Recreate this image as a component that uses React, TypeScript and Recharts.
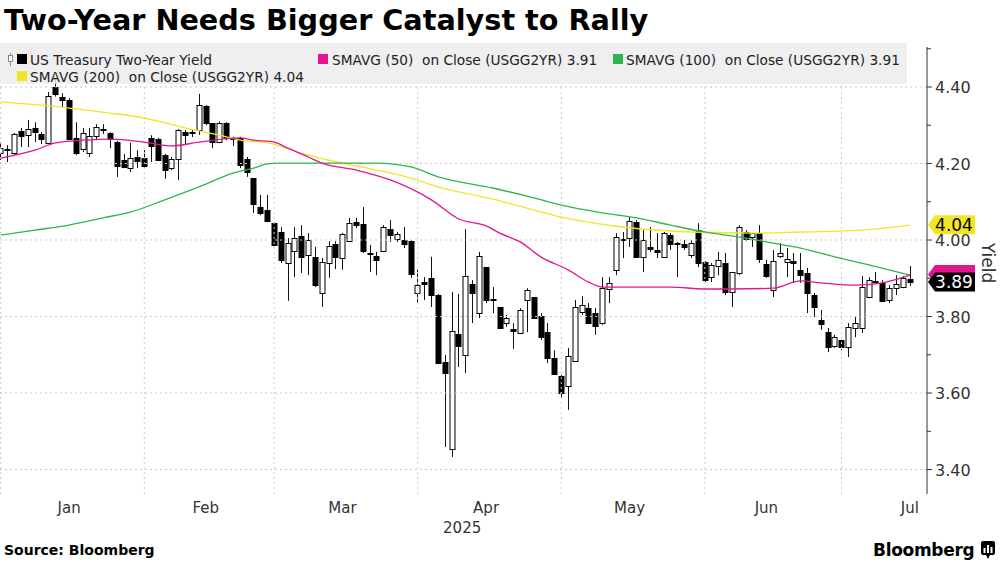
import React from 'react';
import { ComposedChart, Bar, Line, XAxis, YAxis, ReferenceLine } from 'recharts';

const FONT = "'DejaVu Sans', 'Noto Sans', sans-serif";

// Daily OHLC, US Treasury 2-year yield (Jan 2 .. Jul 15, 2025)
const opens = [
  4.227, 4.235, 4.227, 4.285, 4.274, 4.293, 4.277, 4.254, 4.400, 4.374,
  4.366, 4.267, 4.238, 4.227, 4.272, 4.290, 4.280, 4.256, 4.209, 4.188,
  4.217, 4.214, 4.267, 4.264, 4.222, 4.188, 4.212, 4.282, 4.280, 4.288,
  4.350, 4.306, 4.256, 4.306, 4.267, 4.267, 4.212, 4.162, 4.086, 4.078,
  4.044, 4.021, 3.940, 3.971, 4.010, 3.961, 3.956, 3.861, 3.940, 3.990,
  3.953, 3.997, 4.047, 4.042, 3.966, 3.958, 3.971, 4.029, 4.003, 4.000,
  3.997, 3.861, 3.890, 3.901, 3.856, 3.681, 3.453, 3.754, 3.699, 3.885,
  3.809, 3.929, 3.846, 3.825, 3.783, 3.767, 3.757, 3.843, 3.851, 3.801,
  3.759, 3.692, 3.644, 3.618, 3.684, 3.812, 3.822, 3.809, 3.783, 3.872,
  3.922, 4.000, 4.005, 4.047, 3.956, 3.982, 3.974, 3.956, 4.013, 3.992,
  3.990, 3.961, 4.026, 3.942, 3.903, 3.932, 3.940, 3.864, 3.914, 4.021,
  4.008, 4.018, 3.937, 3.869, 3.958, 3.942, 3.945, 3.922, 3.914, 3.856,
  3.791, 3.759, 3.723, 3.739, 3.720, 3.770, 3.770, 3.851, 3.890, 3.887,
  3.843, 3.874, 3.877, 3.898,
];
const highs = [
  4.256, 4.248, 4.280, 4.293, 4.314, 4.308, 4.282, 4.387, 4.420, 4.384,
  4.371, 4.308, 4.293, 4.293, 4.303, 4.303, 4.282, 4.259, 4.225, 4.254,
  4.235, 4.235, 4.274, 4.267, 4.225, 4.217, 4.290, 4.288, 4.290, 4.382,
  4.353, 4.306, 4.310, 4.308, 4.270, 4.270, 4.217, 4.162, 4.118, 4.118,
  4.047, 4.034, 4.005, 4.034, 4.039, 4.018, 3.982, 3.953, 3.997, 3.997,
  4.018, 4.058, 4.058, 4.086, 3.987, 3.969, 4.039, 4.052, 4.021, 4.034,
  4.000, 3.922, 3.903, 3.956, 3.859, 3.699, 3.864, 3.859, 4.029, 3.895,
  3.969, 3.929, 3.877, 3.825, 3.804, 3.783, 3.822, 3.874, 3.851, 3.809,
  3.783, 3.712, 3.647, 3.718, 3.843, 3.853, 3.835, 3.822, 3.903, 3.903,
  4.018, 4.021, 4.060, 4.052, 4.026, 4.034, 4.018, 4.021, 4.018, 3.995,
  4.000, 4.000, 4.044, 3.945, 3.940, 3.969, 3.966, 3.916, 4.039, 4.026,
  4.018, 4.039, 3.948, 3.974, 3.992, 3.979, 3.966, 3.966, 3.927, 3.861,
  3.817, 3.770, 3.752, 3.739, 3.783, 3.799, 3.906, 3.903, 3.916, 3.895,
  3.882, 3.908, 3.906, 3.932,
];
const lows = [
  4.209, 4.204, 4.222, 4.243, 4.243, 4.256, 4.251, 4.251, 4.375, 4.348,
  4.261, 4.222, 4.230, 4.217, 4.261, 4.277, 4.240, 4.165, 4.188, 4.178,
  4.188, 4.188, 4.204, 4.207, 4.160, 4.183, 4.157, 4.248, 4.269, 4.275,
  4.300, 4.240, 4.253, 4.261, 4.246, 4.188, 4.165, 4.071, 4.065, 4.047,
  3.984, 3.940, 3.841, 3.903, 3.914, 3.908, 3.877, 3.825, 3.901, 3.924,
  3.922, 3.995, 4.031, 3.966, 3.916, 3.908, 3.969, 3.995, 3.995, 3.979,
  3.901, 3.835, 3.843, 3.825, 3.675, 3.459, 3.433, 3.668, 3.652, 3.783,
  3.796, 3.835, 3.809, 3.770, 3.773, 3.715, 3.754, 3.759, 3.796, 3.739,
  3.678, 3.647, 3.587, 3.556, 3.681, 3.804, 3.780, 3.752, 3.778, 3.835,
  3.908, 3.953, 3.982, 3.953, 3.916, 3.969, 3.953, 3.953, 3.974, 3.903,
  3.974, 3.953, 3.929, 3.890, 3.890, 3.908, 3.856, 3.825, 3.908, 3.997,
  3.982, 3.940, 3.901, 3.851, 3.953, 3.903, 3.888, 3.888, 3.809, 3.799,
  3.765, 3.707, 3.718, 3.712, 3.694, 3.746, 3.757, 3.848, 3.887, 3.838,
  3.835, 3.856, 3.874, 3.880,
];
const closes = [
  4.240, 4.238, 4.277, 4.272, 4.290, 4.282, 4.264, 4.376, 4.382, 4.366,
  4.264, 4.227, 4.280, 4.272, 4.295, 4.288, 4.264, 4.193, 4.191, 4.214,
  4.207, 4.193, 4.246, 4.209, 4.183, 4.212, 4.288, 4.275, 4.282, 4.353,
  4.306, 4.256, 4.306, 4.267, 4.264, 4.196, 4.178, 4.094, 4.071, 4.050,
  3.987, 3.948, 3.992, 4.005, 3.956, 4.000, 3.882, 3.942, 3.984, 3.956,
  4.016, 4.044, 4.039, 3.971, 3.963, 3.948, 4.034, 4.013, 4.016, 3.990,
  3.911, 3.882, 3.885, 3.856, 3.678, 3.652, 3.762, 3.723, 3.906, 3.861,
  3.958, 3.843, 3.843, 3.770, 3.796, 3.762, 3.817, 3.869, 3.796, 3.746,
  3.692, 3.650, 3.600, 3.697, 3.825, 3.830, 3.783, 3.775, 3.874, 3.887,
  4.008, 4.003, 4.050, 3.956, 4.000, 3.976, 3.969, 4.018, 3.990, 3.990,
  3.982, 3.992, 3.940, 3.895, 3.935, 3.948, 3.864, 3.916, 4.034, 4.003,
  4.018, 3.950, 3.906, 3.945, 3.966, 3.950, 3.940, 3.908, 3.861, 3.825,
  3.780, 3.720, 3.746, 3.720, 3.772, 3.783, 3.877, 3.895, 3.893, 3.841,
  3.874, 3.885, 3.901, 3.890,
];

// Moving averages at [day index, value]
const sma50Points: [number, number][] = [
  [0, 4.214], [5, 4.235], [8, 4.254], [12, 4.261], [16, 4.264], [21, 4.256], [25, 4.246],
  [29, 4.256], [35, 4.267], [37, 4.261], [40, 4.256], [42, 4.240], [45, 4.217], [47, 4.201],
  [52, 4.183], [57, 4.157], [63, 4.105], [67, 4.055], [71, 4.037], [73, 4.018], [76, 3.995],
  [79, 3.956], [83, 3.922], [86, 3.890], [88, 3.877], [93, 3.877], [98, 3.877], [103, 3.872],
  [107, 3.872], [113, 3.874], [117, 3.893], [120, 3.888], [125, 3.882], [129, 3.888], [133, 3.908],
];
const sma100Points: [number, number][] = [
  [0, 4.013], [5, 4.026], [10, 4.039], [15, 4.058], [19, 4.073], [24, 4.105], [29, 4.139],
  [34, 4.175], [37, 4.188], [39, 4.199], [41, 4.201], [50, 4.201], [55, 4.201], [60, 4.191],
  [64, 4.165], [72, 4.136], [78, 4.110], [82, 4.091], [88, 4.071], [93, 4.058], [98, 4.039],
  [103, 4.021], [109, 4.005], [112, 3.995], [117, 3.979], [122, 3.956], [127, 3.935], [133, 3.908],
];
const sma200Points: [number, number][] = [
  [0, 4.361], [10, 4.345], [16, 4.332], [21, 4.319], [27, 4.293], [32, 4.274], [35, 4.261],
  [39, 4.254], [45, 4.222], [50, 4.201], [55, 4.183], [60, 4.162], [64, 4.139], [72, 4.107],
  [82, 4.060], [91, 4.034], [101, 4.021], [111, 4.018], [117, 4.021], [126, 4.026], [133, 4.039],
];

const monthStarts = [0, 21, 40, 61, 82, 103, 123];
const monthTickIdx = [10, 30, 50, 71, 92, 112, 133];
const monthLabels = ['Jan', 'Feb', 'Mar', 'Apr', 'May', 'Jun', 'Jul'];
const yearLabel = '2025';
const yTicks = [3.4, 3.5, 3.6, 3.7, 3.8, 3.9, 4.0, 4.1, 4.2, 4.3, 4.4, 4.5];
const yLabelTicks = [3.4, 3.6, 3.8, 4.0, 4.2, 4.4];
const lastClose = 3.89;
const last50 = 3.91;
const last100 = 3.91;
const last200 = 4.04;
const EMPTY_SLOTS = 2;

const lookup = (pts: [number, number][], i: number) => {
  const f = pts.find((p) => p[0] === i);
  return f ? f[1] : null;
};

const rows = Array.from({ length: opens.length + EMPTY_SLOTS }, (_, i) => ({
  i,
  o: i < opens.length ? opens[i] : null,
  h: i < opens.length ? highs[i] : null,
  l: i < opens.length ? lows[i] : null,
  c: i < opens.length ? closes[i] : null,
  s50: lookup(sma50Points, i),
  s100: lookup(sma100Points, i),
  s200: lookup(sma200Points, i),
}));

const Candle = (props: any) => {
  const { x, y, width, height, payload } = props;
  if (!payload || payload.h == null) return null;
  const { o, h, l, c } = payload;
  const top = Math.min(y, y + height);
  const bot = Math.max(y, y + height);
  const span = h - l;
  const pix = (v: number) => (span === 0 ? top : top + ((h - v) / span) * (bot - top));
  const cx = Math.round(x + width / 2) + 0.5;
  const up = c >= o;
  const bt = Math.round(pix(Math.max(o, c))) + 0.5;
  const bb = Math.round(pix(Math.min(o, c))) + 0.5;
  return (
    <g>
      <line x1={cx} x2={cx} y1={top} y2={bot} stroke="#111" strokeWidth={1} />
      <rect
        x={cx - 2.5}
        y={bt}
        width={5}
        height={Math.max(bb - bt, 1)}
        fill={up ? '#fff' : '#000'}
        stroke="#000"
        strokeWidth={1}
      />
    </g>
  );
};

const YTick = (props: any) => {
  const { x, y, payload } = props;
  const v = payload.value;
  const major = yLabelTicks.some((t) => Math.abs(t - v) < 1e-6);
  return (
    <g>
      <line x1={x} x2={x + (major ? 5 : 4)} y1={y} y2={y} stroke="#333" strokeWidth={1} />
      {major && (
        <text x={x + 8} y={y} dy="0.4em" fontSize={16} fill="#333" fontFamily={FONT}>
          {v.toFixed(2)}
        </text>
      )}
    </g>
  );
};

const makeTag = (text: string | null, fill: string, color: string) => (props: any) => {
  const vb = props.viewBox || {};
  const X = (vb.x || 0) + (vb.width || 0) + 1;
  const yc = vb.y || 0;
  const h = 19;
  const pts = `${X},${yc} ${X + 7},${yc - h / 2} ${X + 47},${yc - h / 2} ${X + 47},${yc + h / 2} ${X + 7},${yc + h / 2}`;
  return (
    <g>
      <polygon points={pts} fill={fill} />
      {text && (
        <text x={X + 26} y={yc} dy="0.37em" textAnchor="middle" fontSize={17} fill={color} fontFamily={FONT}>
          {text}
        </text>
      )}
    </g>
  );
};

const PINK = '#e3168e';
const GREEN = '#2fb54f';
const YELLOW = '#f2e526';

export default function App() {
  return (
    <div style={{ position: 'absolute', left: 0, top: 0, width: 1000, height: 562, background: '#fff', overflow: 'hidden' }}>
      <ComposedChart
        width={1000}
        height={562}
        data={rows}
        margin={{ top: 47, right: 0, bottom: 23, left: -2.7 }}
      >
        <XAxis
          dataKey="i"
          type="category"
          ticks={monthTickIdx}
          interval={0}
          tickFormatter={(v: any) => monthLabels[monthTickIdx.indexOf(Number(v))] || ''}
          axisLine={false}
          tickLine={false}
          tickSize={0}
          tickMargin={8}
          height={45}
          tick={{ fontSize: 15, fill: '#333', fontFamily: FONT }}
          label={{ value: yearLabel, position: 'insideBottom', offset: 6, fontSize: 15, fill: '#333', fontFamily: FONT }}
        />
        <YAxis
          orientation="right"
          width={73}
          domain={[3.336, 4.5046]}
          allowDataOverflow
          ticks={yTicks}
          interval={0}
          tickSize={0}
          tickMargin={0}
          tickLine={false}
          axisLine={{ stroke: '#333' }}
          tick={<YTick />}
        />
        {yLabelTicks.map((v) => (
          <ReferenceLine key={'h' + v} y={v} stroke="#c9c9c9" strokeDasharray="2 3" />
        ))}
        {monthStarts.map((m) => (
          <ReferenceLine key={'v' + m} x={m} stroke="#c9c9c9" strokeDasharray="2 3" />
        ))}
        <Line dataKey="s200" stroke={YELLOW} strokeWidth={1.3} dot={false} connectNulls type="monotone" isAnimationActive={false} />
        <Line dataKey="s100" stroke={GREEN} strokeWidth={1.3} dot={false} connectNulls type="monotone" isAnimationActive={false} />
        <Line dataKey="s50" stroke={PINK} strokeWidth={1.3} dot={false} connectNulls type="monotone" isAnimationActive={false} />
        <Bar
          dataKey={(d: any) => (d.h == null ? null : [d.l, d.h])}
          shape={<Candle />}
          isAnimationActive={false}
        />
        <ReferenceLine y={last200} stroke="none" ifOverflow="visible" label={makeTag(last200.toFixed(2), YELLOW, '#000')} />
        <ReferenceLine y={last50} stroke="none" ifOverflow="visible" label={makeTag(null, PINK, '#fff')} />
        <ReferenceLine y={lastClose} stroke="none" ifOverflow="visible" label={makeTag(lastClose.toFixed(2), '#000', '#fff')} />
      </ComposedChart>

      <svg width={1000} height={562} style={{ position: 'absolute', left: 0, top: 0, pointerEvents: 'none' }}>
        <text x={4} y={30} fontSize={28.7} fontWeight="bold" fill="#000" fontFamily={FONT}>
          Two-Year Needs Bigger Catalyst to Rally
        </text>
        {/* legend */}
        <rect x={0} y={43} width={907} height={41} fill="rgba(236,236,236,0.85)" />
        <line x1={10.5} x2={10.5} y1={53} y2={66} stroke="#888" />
        <rect x={8.5} y={55.5} width={4} height={6} fill="#fff" stroke="#888" />
        <rect x={17} y={54} width={10} height={10} fill="#000" />
        <text x={30} y={64.5} fontSize={13.8} fill="#222" fontFamily={FONT} style={{ whiteSpace: 'pre' }}>
          US Treasury Two-Year Yield
        </text>
        <rect x={318} y={54} width={10} height={10} fill={PINK} />
        <text x={332} y={64.5} fontSize={13.7} fill="#222" fontFamily={FONT} style={{ whiteSpace: 'pre' }}>
          {`SMAVG (50)  on Close (USGG2YR) ${last50.toFixed(2)}`}
        </text>
        <rect x={613} y={54} width={10} height={10} fill={GREEN} />
        <text x={626} y={64.5} fontSize={13.7} fill="#222" fontFamily={FONT} style={{ whiteSpace: 'pre' }}>
          {`SMAVG (100)  on Close (USGG2YR) ${last100.toFixed(2)}`}
        </text>
        <rect x={17} y={71} width={10} height={10} fill={YELLOW} />
        <text x={30} y={82} fontSize={13.7} fill="#222" fontFamily={FONT} style={{ whiteSpace: 'pre' }}>
          {`SMAVG (200)  on Close (USGG2YR) ${last200.toFixed(2)}`}
        </text>
        {/* axis title */}
        <text transform="translate(988,263) rotate(90)" textAnchor="middle" dy="0.36em" fontSize={17} fill="#333" fontFamily={FONT}>
          Yield
        </text>
        {/* footer */}
        <text x={4} y={555} fontSize={14} fontWeight="bold" fill="#000" fontFamily={FONT}>
          Source: Bloomberg
        </text>
        <text x={873} y={556} fontSize={17} fontWeight="bold" fill="#000" fontFamily={FONT} letterSpacing={-0.3}>
          Bloomberg
        </text>
        <rect x={981} y={541} width={14} height={14} rx={2} fill="#000" />
        <rect x={983.5} y={548} width={2} height={5} fill="#fff" />
        <rect x={987} y={545} width={2} height={8} fill="#fff" />
        <rect x={990.5} y={547} width={2} height={6} fill="#fff" />
        <polygon points="986,555 990,555 988,559" fill="#000" />
      </svg>
    </div>
  );
}
